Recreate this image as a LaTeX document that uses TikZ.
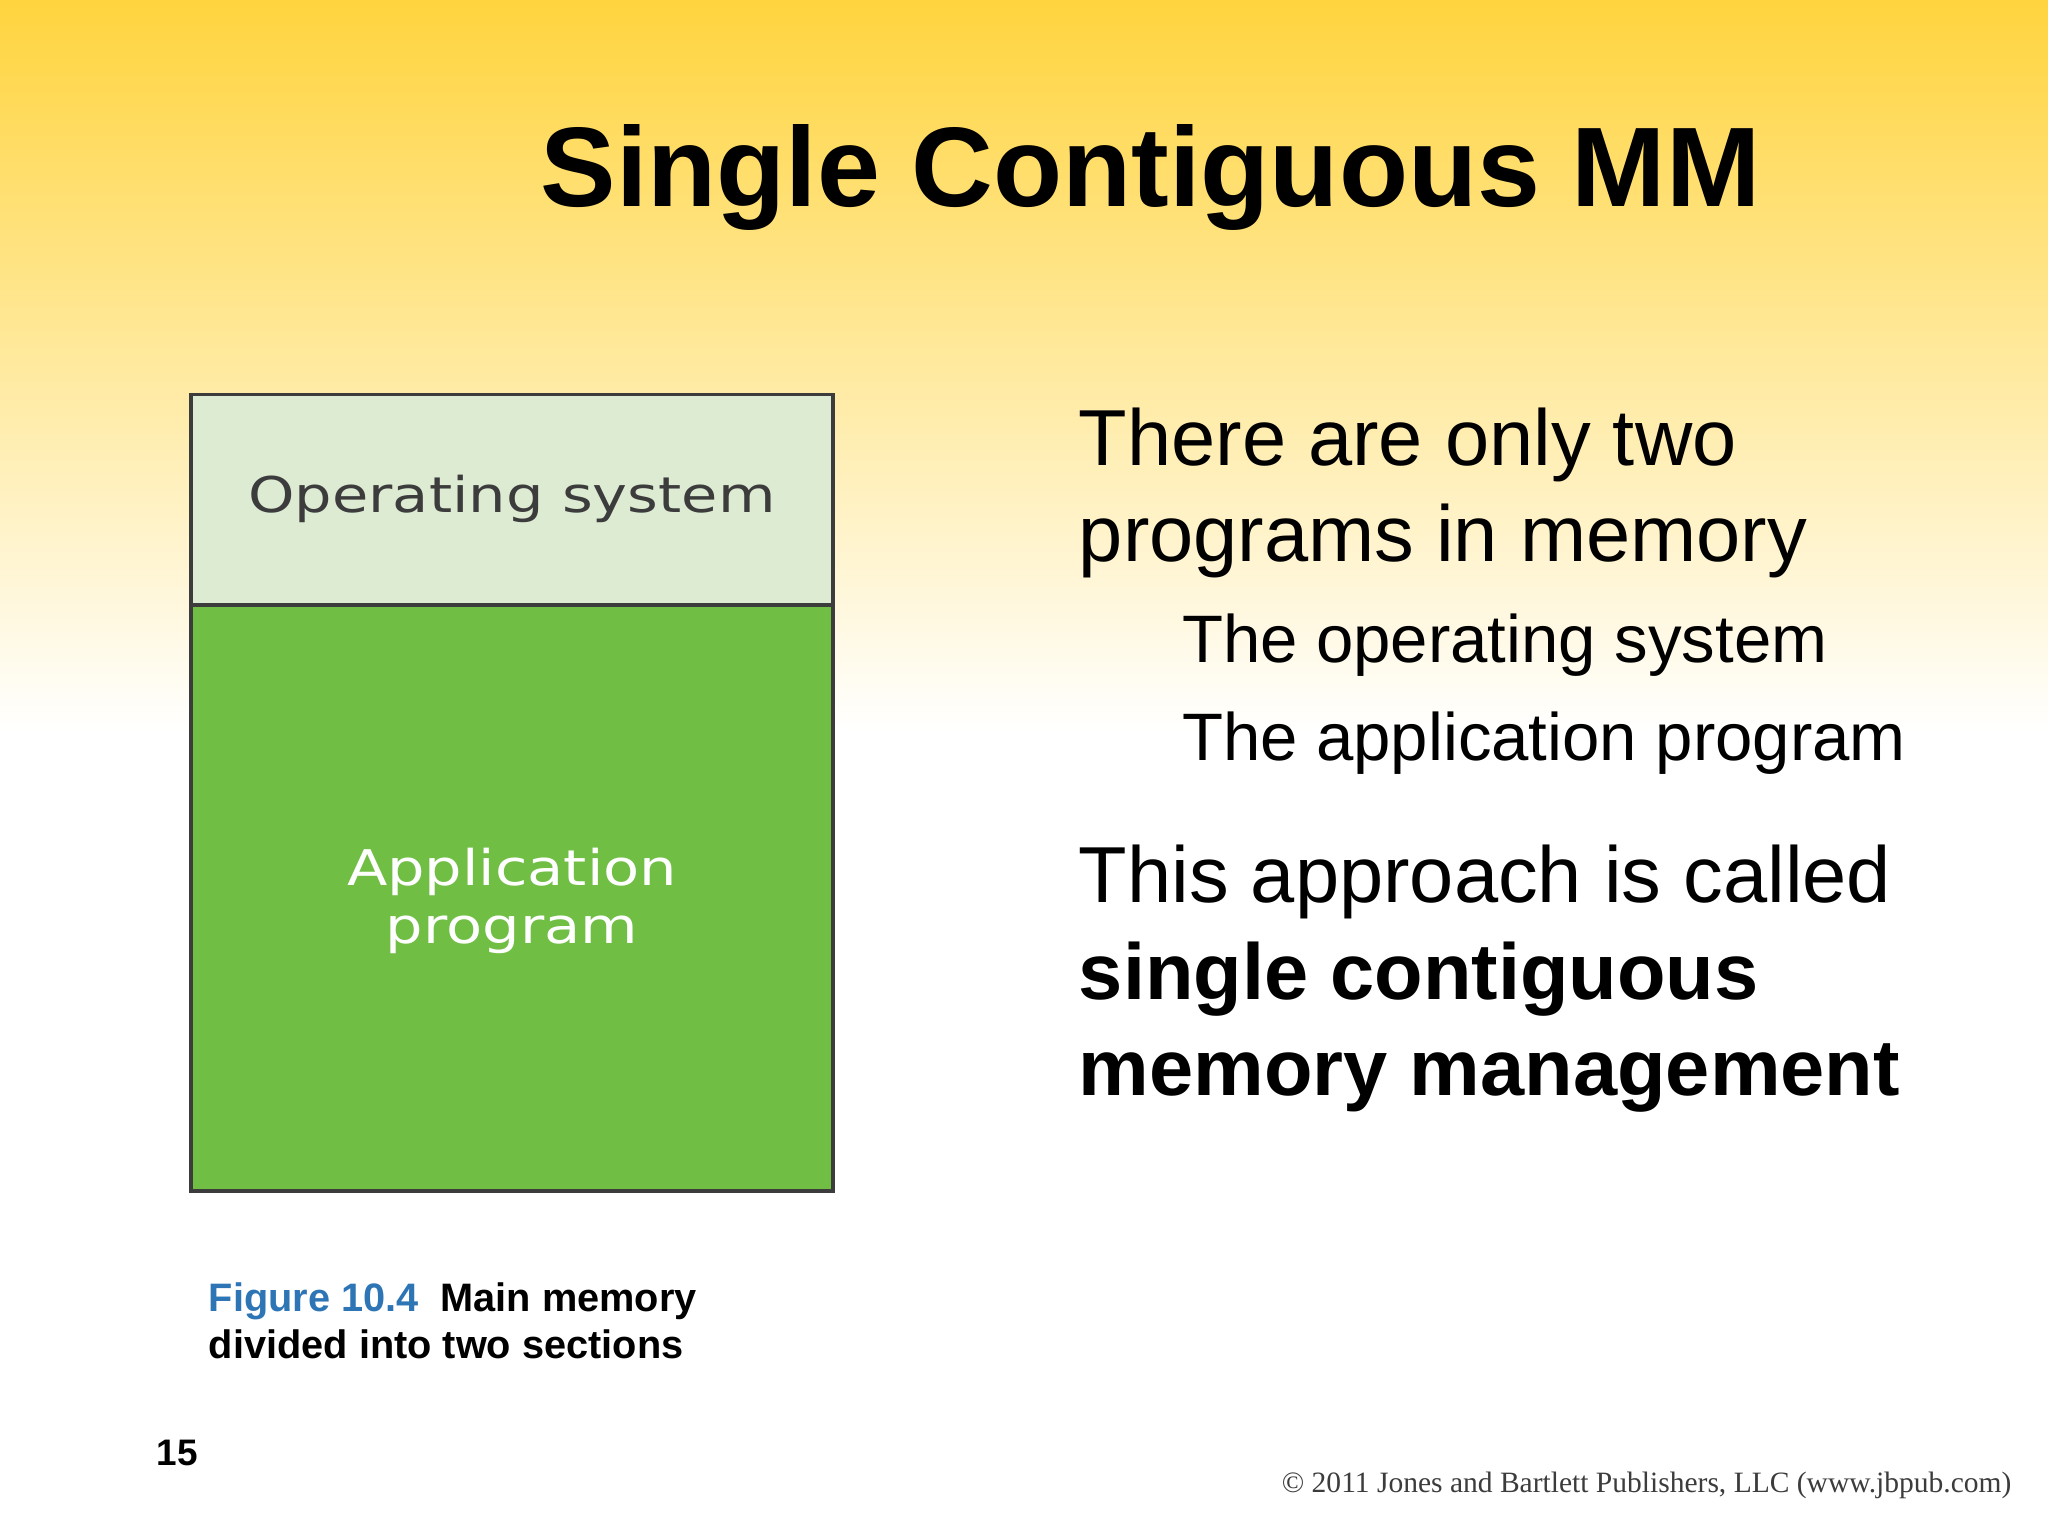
\documentclass[tikz,border=0pt]{standalone}
\usepackage{fontspec}
\setmainfont{Liberation Sans}
\newfontfamily\cpy{Liberation Serif}
\newfontfamily\wide{DejaVu Sans}
\definecolor{topyel}{RGB}{255,212,62}
\definecolor{osgreen}{RGB}{220,235,210}
\definecolor{appgreen}{RGB}{112,191,68}
\definecolor{figblue}{RGB}{46,117,182}
\definecolor{boxtxt}{RGB}{60,60,60}
\begin{document}
\begin{tikzpicture}[x=0.013061cm,y=-0.013061cm,
  every node/.style={inner sep=0pt,outer sep=0pt},
  mem/.style={draw=boxtxt,line width=1.1pt}]
\useasboundingbox (0,0) rectangle (1568,1176);
\fill[white] (0,0) rectangle (1568,1176);
\shade[top color=topyel,bottom color=white] (0,0) rectangle (1568,560);
\node[anchor=base west,font=\fontsize{32.2}{40}\selectfont\bfseries] (title) at (414,158) {Single Contiguous MM};
\path[mem,fill=osgreen] (146,302) rectangle (638,463);
\path[mem,fill=appgreen] (146,463) rectangle (638,912);
\node[font=\wide\fontsize{14}{17}\selectfont,text=boxtxt,xscale=1.2] (os) at (392,382) {Operating system};
\node[font=\wide\fontsize{14}{16.5}\selectfont,text=white,align=center,xscale=1.2] (app) at (392,690) {Application\\program};
\node[anchor=north west,align=left,font=\fontsize{11.3}{13.5}\selectfont\bfseries] (cap) at (160,982) {\textcolor{figblue}{Figure 10.4}\ \ Main memory\\divided into two sections};
\node[anchor=base west,font=\fontsize{10.5}{12}\selectfont\bfseries] (pg) at (120,1122) {15};
\node[anchor=base east,font=\cpy\fontsize{8.4}{9}\selectfont,text=boxtxt] (copy) at (1540,1143) {© 2011 Jones and Bartlett Publishers, LLC (www.jbpub.com)};
\node[anchor=north west,align=left,font=\fontsize{22.6}{27.5}\selectfont] (t1) at (826,312) {There are only two\\programs in memory};
\node[anchor=north west,align=left,font=\fontsize{19.1}{28}\selectfont] (t2) at (905,470) {The operating system\\The application program};
\node[anchor=north west,align=left,font=\fontsize{22.6}{27.5}\selectfont] (t3) at (826,647) {This approach is called\\\textbf{single contiguous}\\\textbf{memory management}};
\end{tikzpicture}
\end{document}
